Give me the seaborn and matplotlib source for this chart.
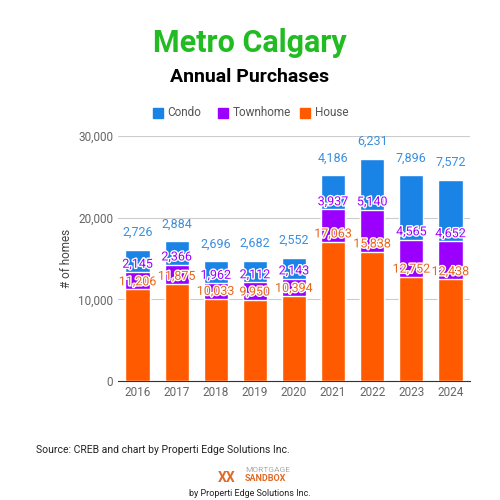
import numpy as np
import pandas as pd
import seaborn as sns
import matplotlib.pyplot as plt
import matplotlib.patheffects as pe

years = ['2016', '2017', '2018', '2019', '2020', '2021', '2022', '2023', '2024']
house = [11206, 11875, 10033, 9950, 10394, 17063, 15838, 12752, 12438]
townhome = [2145, 2366, 1962, 2112, 2143, 3937, 5140, 4565, 4652]
condo = [2726, 2884, 2696, 2682, 2552, 4186, 6231, 7896, 7572]

c_house, c_town, c_condo = '#ff5a00', '#9b00ff', '#1a84e6'

sns.set_style("white")
plt.rcParams['font.family'] = ['Roboto', 'DejaVu Sans']

fig = plt.figure(figsize=(5, 5), dpi=100)
ax = fig.add_axes([0.236, 0.238, 0.704, 0.49])

h = np.array(house)
t = np.array(townhome)
c = np.array(condo)
df = pd.DataFrame({'year': years, 'house': h, 'ht': h + t, 'all': h + t + c})

# stacked via overlaid barplots (tallest first)
sns.barplot(data=df, x='year', y='all', color=c_condo, saturation=1, width=0.62, ax=ax, zorder=2)
sns.barplot(data=df, x='year', y='ht', color=c_town, saturation=1, width=0.62, ax=ax, zorder=3)
sns.barplot(data=df, x='year', y='house', color=c_house, saturation=1, width=0.62, ax=ax, zorder=4)

outline = [pe.withStroke(linewidth=2, foreground='white')]
for i in range(len(years)):
    ax.text(i, h[i] + 150, f'{house[i]:,}', ha='center', va='bottom', color='#e8651a', fontsize=9, path_effects=outline, zorder=6)
    ax.text(i, h[i] + t[i] + 150, f'{townhome[i]:,}', ha='center', va='bottom', color=c_town, fontsize=9, path_effects=outline, zorder=6)
    ax.text(i, h[i] + t[i] + c[i] + 1300, f'{condo[i]:,}', ha='center', va='bottom', color='#3a8fe0', fontsize=9, zorder=6)

ax.set_ylim(0, 30000)
ax.set_yticks([0, 10000, 20000, 30000])
ax.set_yticklabels(['0', '10,000', '20,000', '30,000'])
ax.yaxis.grid(True, color='#cccccc', linewidth=0.8, zorder=0)
ax.set_axisbelow(True)
for s in ['top', 'right', 'left']:
    ax.spines[s].set_visible(False)
ax.spines['bottom'].set_color('#333333')
ax.tick_params(axis='both', colors='#666666', labelsize=8.5, length=0)
ax.set_xlabel('')
ax.set_ylabel('# of homes', fontsize=8.5, color='#444444')

fig.text(0.5, 0.915, 'Metro Calgary', ha='center', va='center', fontsize=22, fontweight='bold', color='#22bb22')
fig.text(0.5, 0.845, 'Annual Purchases', ha='center', va='center', fontsize=14, fontweight='bold', color='black')

# legend
for x, col, lab in [(0.305, c_condo, 'Condo'), (0.435, c_town, 'Townhome'), (0.6, c_house, 'House')]:
    fig.patches.append(plt.Rectangle((x, 0.764), 0.02, 0.02, color=col, transform=fig.transFigure))
    fig.text(x + 0.03, 0.774, lab, va='center', fontsize=8.5, color='#555555')

fig.text(0.072, 0.1, 'Source: CREB and chart by Properti Edge Solutions Inc.', fontsize=7.5, color='#222222', va='center')
fig.text(0.49, 0.06, 'MORTGAGE', fontsize=6, color='#aaaaaa', va='center')
fig.text(0.49, 0.043, 'SANDBOX', fontsize=6.5, color='#e06a2a', fontweight='bold', va='center')
fig.text(0.435, 0.043, 'XX', fontsize=10, color='#e06a2a', fontweight='bold', va='center')
fig.text(0.5, 0.014, 'by Properti Edge Solutions Inc.', fontsize=6.5, color='#222222', ha='center', va='center')

fig.savefig('out.png', dpi=100)
